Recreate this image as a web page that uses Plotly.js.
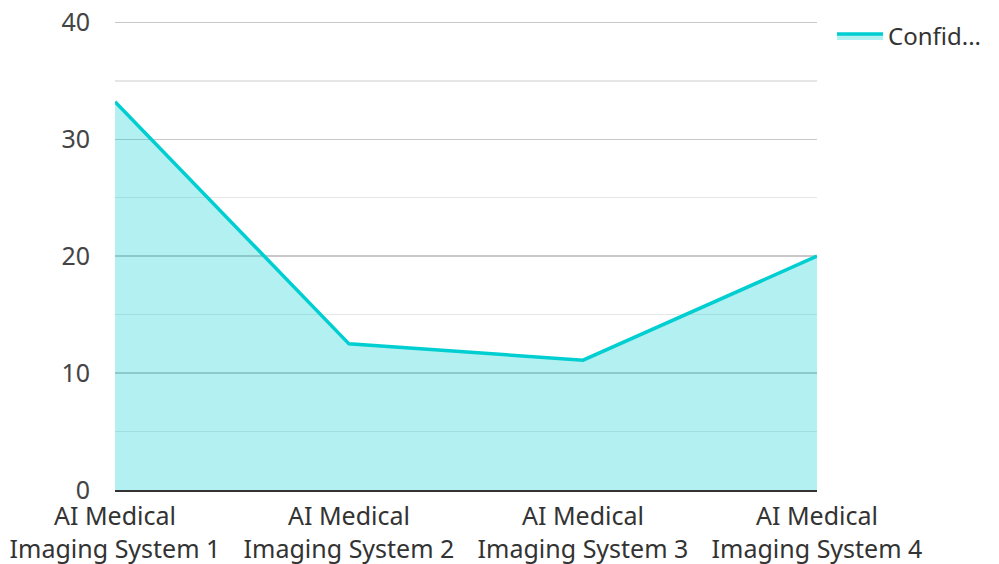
<!DOCTYPE html>
<html>
<head>
<meta charset="utf-8">
<script src="https://cdn.plot.ly/plotly-3.0.1.min.js"></script>
<style>html,body{margin:0;padding:0;background:#fff;}#chart{width:999px;height:564px;}</style>
</head>
<body>
<div id="chart"></div>
<script>
const categories = ["AI Medical<br>Imaging System 1", "AI Medical<br>Imaging System 2", "AI Medical<br>Imaging System 3", "AI Medical<br>Imaging System 4"];
const confidence = [33.2, 12.5, 11.1, 20.0];
const seriesName = "Confid...";
const yTicks = [0, 10, 20, 30, 40];
const minorTicks = [5, 15, 25, 35];

const font = "Noto Sans, Open Sans, sans-serif";
const traces = [{
  type: "scatter",
  mode: "lines",
  x: categories,
  y: confidence,
  name: seriesName,
  fill: "tozeroy",
  fillcolor: "rgba(0,206,209,0.3)",
  line: {color: "#00CED1", width: 3.5}
}];
const layout = {
  width: 999, height: 564,
  margin: {l: 115, r: 182, t: 20, b: 74},
  paper_bgcolor: "#fff", plot_bgcolor: "#fff",
  font: {family: font, size: 25, color: "#333"},
  showlegend: true,
  legend: {x: 1.0214, y: 1.013, xanchor: "left", yanchor: "top", itemwidth: 46,
           font: {family: font, size: 24, color: "#333"}},
  xaxis: {
    type: "category", range: [0, 3], showgrid: false, zeroline: false,
    showline: true, linecolor: "#333", linewidth: 2,
    ticks: "", ticklabelstandoff: 3,
    tickfont: {family: font, size: 25, color: "#333"}, automargin: false
  },
  yaxis: {
    range: [0, 40.2], tickvals: yTicks, ticktext: yTicks.map(String),
    showgrid: true, gridcolor: "#c8c8c8", gridwidth: 1.5, zeroline: false,
    showline: false, ticks: "", ticklabelstandoff: 24,
    tickfont: {family: font, size: 25, color: "#444"},
    minor: {tickvals: minorTicks, showgrid: true, gridcolor: "#e6e6e6", gridwidth: 1.5},
    automargin: false
  }
};
Plotly.newPlot("chart", traces, layout, {displayModeBar: false, staticPlot: true});
</script>
</body>
</html>
